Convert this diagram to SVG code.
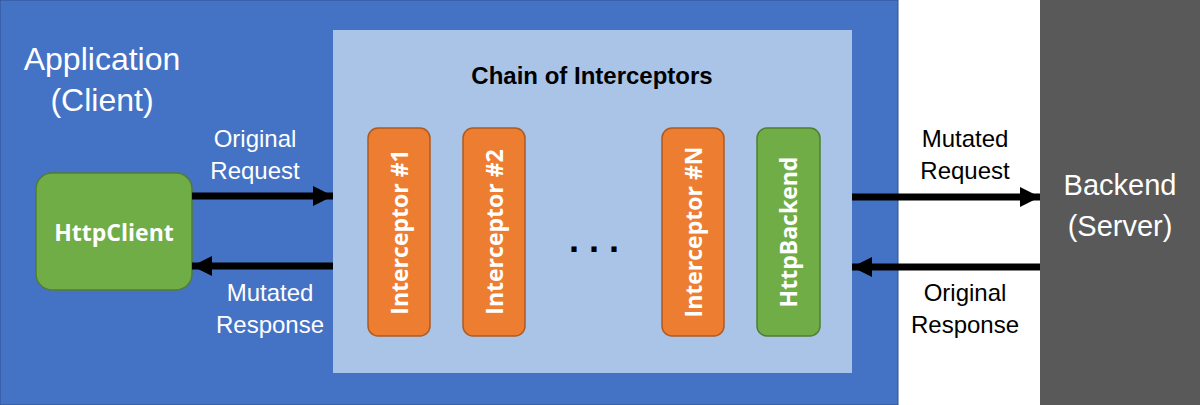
<svg xmlns="http://www.w3.org/2000/svg" width="1200" height="405" viewBox="0 0 1200 405">
<style>
.t{font-family:"Liberation Sans",Arial,sans-serif;fill:#fff}
.lbl{font-size:24px;text-anchor:middle}
.vt{font-family:"Open Sans","DejaVu Sans",sans-serif;font-weight:bold;font-size:23px;fill:#fff;text-anchor:middle}
.org{fill:#ED7D31;stroke:#AE5A21;stroke-width:1.5}
.grn{fill:#70AD47;stroke:#507E32;stroke-width:1.5}
.ar{stroke:#000;stroke-width:7;fill:none;marker-end:url(#ah)}
</style>
<defs><marker id="ah" markerUnits="userSpaceOnUse" markerWidth="22" markerHeight="22" refX="20" refY="11" orient="auto"><path d="M0,1 L20,11 L0,21 Z" fill="#000"/></marker></defs>
<rect width="1200" height="405" fill="#fff"/>
<g id="app"><rect x="0" y="0" width="898" height="405" fill="#4472C4" stroke="#2F528F" stroke-width="1"/>
<text class="t" x="102" y="70" font-size="32" text-anchor="middle">Application</text>
<text class="t" x="102" y="111" font-size="32" text-anchor="middle">(Client)</text></g>
<g id="chain"><rect x="333" y="30" width="519" height="343" fill="#A9C4E7"/>
<text x="592" y="84" font-family="Liberation Sans,Arial,sans-serif" font-weight="bold" font-size="24" text-anchor="middle" fill="#000">Chain of Interceptors</text>
<text x="594" y="252" font-family="Liberation Sans,Arial,sans-serif" font-weight="bold" font-size="36" text-anchor="middle" fill="#000">. . .</text></g>
<g id="backend"><rect x="1040" y="0" width="160" height="405" fill="#595959"/>
<text class="t" x="1120" y="195" font-size="29" text-anchor="middle">Backend</text>
<text class="t" x="1120" y="236" font-size="29" text-anchor="middle">(Server)</text></g>
<g id="httpclient"><rect class="grn" x="36" y="173" width="156" height="117" rx="16"/>
<text x="114" y="241" font-family="Open Sans,DejaVu Sans,sans-serif" font-weight="bold" font-size="23" fill="#fff" text-anchor="middle">HttpClient</text></g>
<g id="i1"><rect class="org" x="368" y="128" width="62" height="208" rx="10"/><text class="vt" transform="translate(408,232) rotate(-90)">Interceptor #1</text></g>
<g id="i2"><rect class="org" x="463" y="128" width="62" height="208" rx="10"/><text class="vt" transform="translate(503,232) rotate(-90)">Interceptor #2</text></g>
<g id="iN"><rect class="org" x="662" y="128" width="62" height="208" rx="10"/><text class="vt" transform="translate(702,232) rotate(-90)">Interceptor #N</text></g>
<g id="hb"><rect class="grn" x="757" y="128" width="63" height="208" rx="10"/><text class="vt" transform="translate(797,232) rotate(-90)">HttpBackend</text></g>
<g id="connectors">
<line class="ar" x1="192" y1="196" x2="333" y2="196"/>
<line class="ar" x1="333" y1="266" x2="192" y2="266"/>
<line class="ar" x1="852" y1="197" x2="1040" y2="197"/>
<line class="ar" x1="1040" y1="267" x2="852" y2="267"/>
<text class="t lbl" x="255" y="147">Original</text><text class="t lbl" x="255" y="179">Request</text>
<text class="t lbl" x="270" y="301">Mutated</text><text class="t lbl" x="270" y="333">Response</text>
<text class="t lbl" x="965" y="147" style="fill:#000">Mutated</text><text class="t lbl" x="965" y="179" style="fill:#000">Request</text>
<text class="t lbl" x="965" y="301" style="fill:#000">Original</text><text class="t lbl" x="965" y="333" style="fill:#000">Response</text>
</g>
</svg>
